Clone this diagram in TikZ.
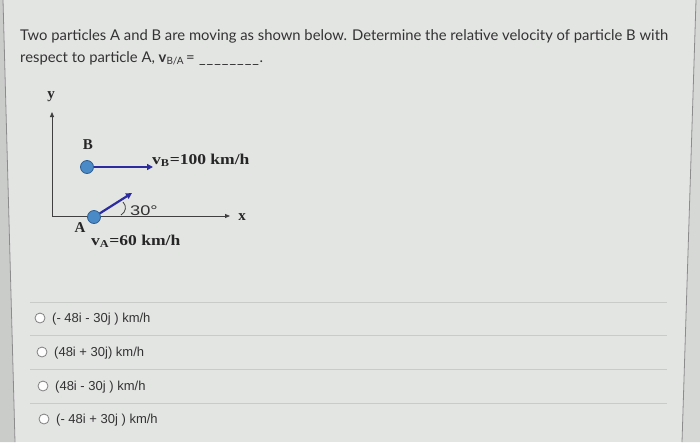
\documentclass[tikz,border=0pt]{standalone}
\usepackage{fontspec}
\setmainfont{Liberation Serif}
\newfontfamily\qfont{Lato}
\newfontfamily\optfont{Liberation Sans}
\usetikzlibrary{arrows.meta}
\definecolor{bg}{HTML}{E3E5E3}
\definecolor{edgeL}{HTML}{CACCCA}
\definecolor{edgeR}{HTML}{D6D8D6}
\definecolor{qtext}{HTML}{333333}
\definecolor{vblue}{HTML}{2C2C9E}
\definecolor{pfill}{HTML}{4A8AC6}
\definecolor{pdraw}{HTML}{2E5E92}
\definecolor{sepc}{HTML}{C9CBC9}
\tikzset{
  axis/.style={draw=black!75, line width=0.8pt, -{Triangle[length=5pt,width=4pt]}},
  varrow/.style={draw=vblue, line width=2.2pt, -{Triangle[length=6pt,width=6pt]}},
  particle/.style={circle, fill=pfill, draw=pdraw, line width=0.8pt, minimum size=13pt, inner sep=0pt},
  dlabel/.style={font=\fontsize{15}{15}\selectfont\bfseries, text=black!85, inner sep=0pt},
  radio/.style={circle, draw=black!50, fill=white!92!bg, line width=0.8pt, minimum size=10pt, inner sep=0pt},
  opt/.style={font=\optfont\fontsize{13}{13}\selectfont, text=qtext, anchor=base west, inner sep=0pt},
  sep/.style={draw=sepc, line width=0.7pt},
  qline/.style={font=\qfont\fontsize{14.8}{14.8}\selectfont, text=qtext, anchor=base west, inner sep=0pt},
}
\begin{document}
\begin{tikzpicture}[x=1pt,y=-1pt]
\useasboundingbox (0,0) rectangle (700,442);
\fill[bg] (0,0) rectangle (700,442);
\fill[edgeL] (0,0) -- (3,0) -- (15,442) -- (0,442) -- cycle;
\fill[edgeR] (696,0) -- (700,0) -- (700,442) -- (682,442) -- cycle;
\draw[black!45, line width=0.8pt] (3,0) -- (15,442);
\draw[black!45, line width=0.8pt] (696,0) -- (682,442);
% question
\node[qline] (q1) at (20,40) {Two particles A and B are moving as shown below. Determine the relative velocity of particle B with};
\node[qline] (q2) at (20,62) {respect to particle A, \textbf{v}{\fontsize{10}{10}\selectfont\raisebox{-2pt}{B/A}}\,= \texttt{\_\_\_\_\_\_\_\_}.};
% diagram
\coordinate (O) at (52,216);
\coordinate (ytip) at (52,112);
\coordinate (xtip) at (230,216);
\draw[axis] (O) -- (ytip);
\draw[axis] (O) -- (xtip);
\node[dlabel] (ylab) at (51,97) {y};
\node[dlabel] (xlab) at (242,217) {x};
\node[particle] (B) at (87,167) {};
\node[particle] (A) at (94,217) {};
\coordinate (bt) at (153,167);
\coordinate (at) at (132,193);
\draw[varrow] (B) -- (bt);
\draw[varrow] (A) -- (at);
\node[dlabel] (Blab) at (88,145) {B};
\node[dlabel] (Alab) at (80,228) {A};
\node[dlabel, anchor=base west] (vB) at (152,164) {\scalebox{1.17}[1]{v\textsubscript{B}=100 km/h}};
\node[dlabel, anchor=base west] (vA) at (91,245) {\scalebox{1.17}[1]{v\textsubscript{A}=60 km/h}};
\draw[black!75, line width=0.8pt] (121,215) .. controls (126,212) and (127,206) .. (123,202);
\node[font=\optfont\fontsize{14}{14}\selectfont, text=black!80, anchor=base west, inner sep=0pt] (ang) at (130,215) {\scalebox{1.3}[1]{30°}};
% options
\draw[sep] (30,302) -- (667,302);
\draw[sep] (30,335) -- (667,335);
\draw[sep] (30,369) -- (667,369);
\draw[sep] (30,403) -- (667,403);
\node[radio] (r1) at (40,318) {};
\node[radio] (r2) at (42,352) {};
\node[radio] (r3) at (43,386) {};
\node[radio] (r4) at (44,419) {};
\node[opt] (o1) at (52,322) {(- 48i - 30j ) km/h};
\node[opt] (o2) at (54,356) {(48i + 30j) km/h};
\node[opt] (o3) at (55,390) {(48i - 30j ) km/h};
\node[opt] (o4) at (56,423) {(- 48i + 30j ) km/h};
\end{tikzpicture}
\end{document}
